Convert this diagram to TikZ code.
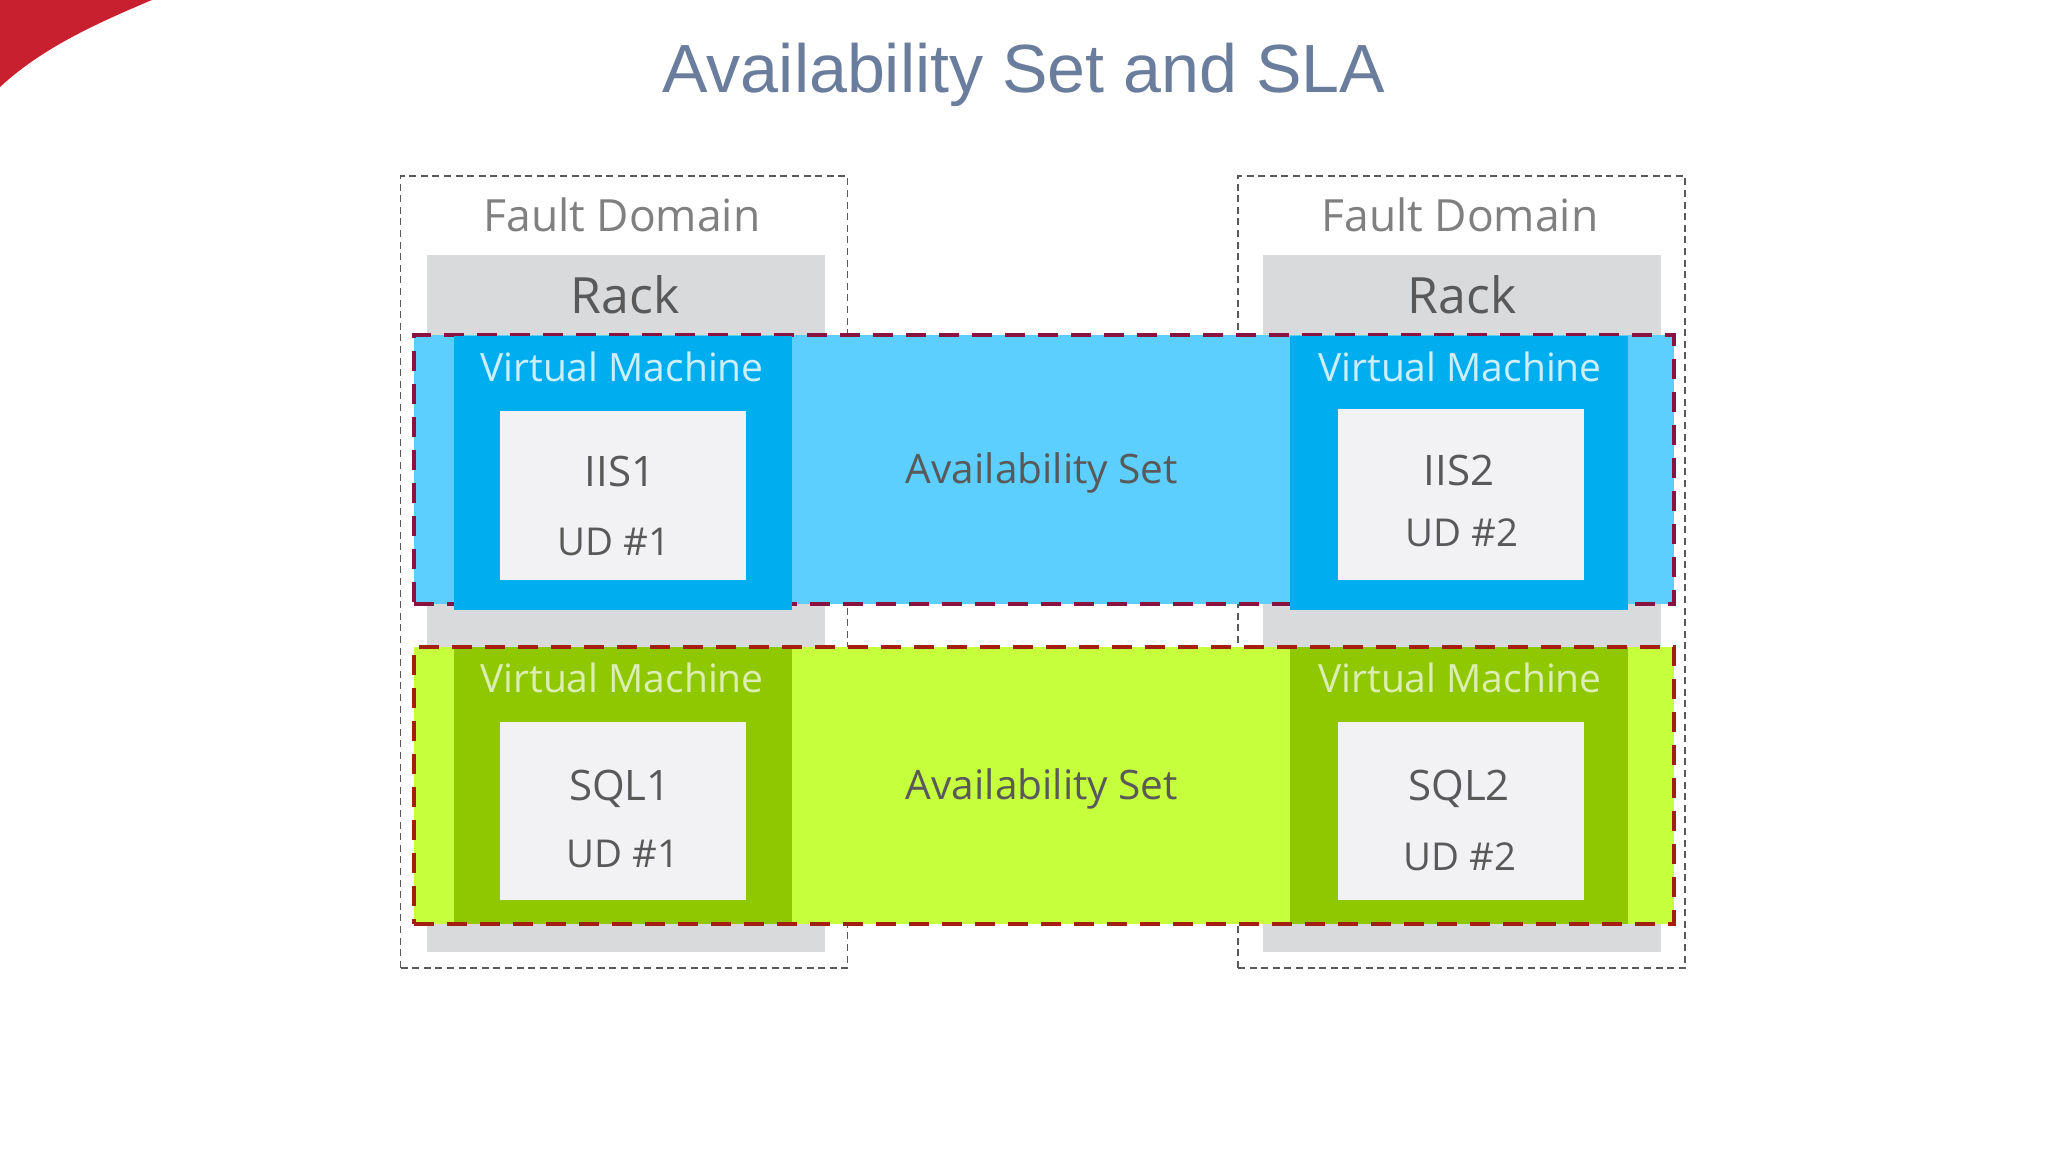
\documentclass[tikz,border=0pt]{standalone}
\usepackage{fontspec}
\setmainfont{Open Sans}
\newfontfamily\titlefont{Liberation Sans}
\usetikzlibrary{positioning}
\definecolor{swoosh}{HTML}{C8202F}
\definecolor{titlecol}{HTML}{6A7D9C}
\definecolor{rackgray}{HTML}{D9DADC}
\definecolor{innergray}{HTML}{F2F2F4}
\definecolor{setblue}{HTML}{5CCFFF}
\definecolor{vmblue}{HTML}{00ADEF}
\definecolor{setgreen}{HTML}{C6FF3C}
\definecolor{vmgreen}{HTML}{8FC800}
\definecolor{dashblue}{HTML}{8A1240}
\definecolor{dashgreen}{HTML}{A31F12}
\tikzset{
	box/.style={inner sep=0pt,outer sep=0pt,line width=0pt},
	faultbox/.style={box,draw=black!65,line width=0.7pt,dash pattern=on 3.5pt off 2.3pt,minimum width=223.5pt,minimum height=396pt},
	rackbox/.style={box,fill=rackgray,minimum width=199pt,minimum height=348.5pt},
	setfill/.style={box,minimum width=630pt},
	setline/.style={box,line width=2pt,dash pattern=on 10pt off 6.5pt,minimum width=630pt},
	vmbox/.style={box,minimum width=169pt},
	innerbox/.style={box,fill=innergray,minimum width=123pt},
	txt/.style={inner sep=0pt,text=black!65,font=\fontsize{19.2}{23}\selectfont},
	servertxt/.style={txt,font=\fontsize{21}{25}\selectfont},
	settxt/.style={txt,font=\fontsize{20.3}{24}\selectfont},
	faulttxt/.style={txt,text=black!50,font=\fontsize{22.2}{26}\selectfont},
	racktxt/.style={txt,font=\fontsize{25}{30}\selectfont},
	vmtxt/.style={inner sep=0pt,font=\fontsize{19.5}{23}\selectfont},
}
\begin{document}
\begin{tikzpicture}[x=0.5pt,y=-0.5pt]
	\useasboundingbox (0,0) rectangle (2048,1152);
	\fill[swoosh] (0,0) -- (152,0) .. controls (90,26) and (40,50) .. (0,87) -- cycle;
	\node[inner sep=0pt,text=titlecol,font=\titlefont\fontsize{34.1}{41}\selectfont] (title) at (1024,74.5) {Availability Set and SLA};

	% fault domains and racks
	\node[faultbox] (fault1) at (624,572) {};
	\node[faultbox] (fault2) at (1461.5,572) {};
	\node[rackbox] (rack1) at (625.5,603.5) {};
	\node[rackbox] (rack2) at (1462,603.5) {};
	\node[faulttxt] (faultlabel1) at (622,215) {Fault Domain};
	\node[faulttxt] (faultlabel2) at (1460,215) {Fault Domain};
	\node[racktxt] (racklabel1) at (625,295) {Rack};
	\node[racktxt] (racklabel2) at (1462,295) {Rack};

	% blue availability set
	\node[setfill,fill=setblue,setline,draw=dashblue,minimum height=134.5pt] (setiis) at (1043.5,469) {};
	\node[vmbox,fill=vmblue,minimum height=137pt] (vmiis1) at (622.5,473) {};
	\node[vmbox,fill=vmblue,minimum height=137pt] (vmiis2) at (1459,473) {};
	\node[innerbox,minimum height=84.5pt] (boxiis1) at (622.5,495.5) {};
	\node[innerbox,minimum height=85.5pt] (boxiis2) at (1461,494.5) {};
	\node[vmtxt,text=white!80!vmblue] (vmlabel1) at (622,367) {Virtual Machine};
	\node[vmtxt,text=white!80!vmblue] (vmlabel2) at (1460,367) {Virtual Machine};
	\node[servertxt] (iis1) at (620,471) {IIS1};
	\node[txt] (ud1) at (614,542) {UD \#1};
	\node[servertxt] (iis2) at (1459,470) {IIS2};
	\node[txt] (ud2) at (1462,533) {UD \#2};
	\node[settxt] (setlabel1) at (1042,473) {Availability Set};

	% green availability set
	\node[setfill,fill=setgreen,minimum height=138.5pt] (setsql) at (1043.5,785.5) {};
	\node[vmbox,fill=vmgreen,minimum height=138.5pt] (vmsql1) at (622.5,785.5) {};
	\node[vmbox,fill=vmgreen,minimum height=138.5pt] (vmsql2) at (1459,785.5) {};
	\node[setline,draw=dashgreen,minimum height=138.5pt] (setsqlline) at (1043.5,785.5) {};
	\node[innerbox,minimum height=89pt] (boxsql1) at (622.5,811) {};
	\node[innerbox,minimum height=89pt] (boxsql2) at (1461,811) {};
	\node[vmtxt,text=white!70!vmgreen] (vmlabel3) at (622,678) {Virtual Machine};
	\node[vmtxt,text=white!70!vmgreen] (vmlabel4) at (1460,678) {Virtual Machine};
	\node[servertxt] (sql1) at (620,789) {SQL1};
	\node[txt] (ud3) at (623,854) {UD \#1};
	\node[servertxt] (sql2) at (1459,789) {SQL2};
	\node[txt] (ud4) at (1460,857) {UD \#2};
	\node[settxt] (setlabel2) at (1042,789) {Availability Set};
\end{tikzpicture}
\end{document}
